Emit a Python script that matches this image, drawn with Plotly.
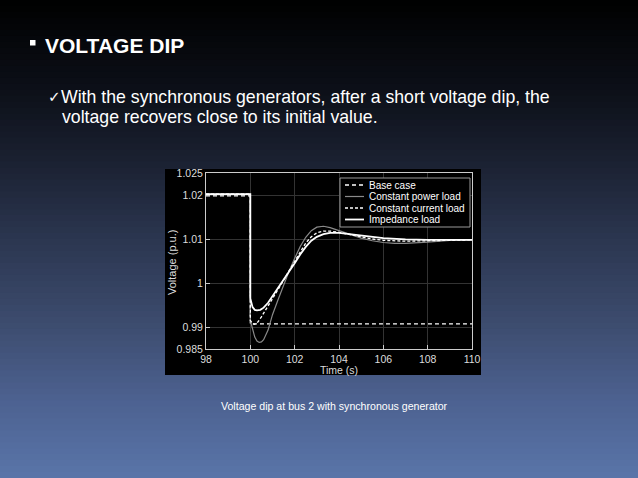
import plotly.graph_objects as go

W, H = 638, 478

# time (s) and voltage (p.u.)
t_base = [98, 100, 100, 110]
v_base = [1.0198, 1.0198, 0.9907, 0.9907]

t_power = [98, 100, 100, 100.1, 100.2, 100.3, 100.4, 100.5, 100.6, 100.8, 101.0,
           101.25, 101.5, 101.75, 102.0, 102.25, 102.5, 102.75, 103.0, 103.3, 103.6,
           104.0, 104.5, 105.0, 105.5, 106.0, 106.5, 107.0, 108.0, 109.0, 110.0]
v_power = [1.0202, 1.0202, 0.9915, 0.9893, 0.9877, 0.9868, 0.9865, 0.9866, 0.9871,
           0.9893, 0.9928, 0.9962, 0.9995, 1.0027, 1.0056, 1.0083, 1.0104, 1.0119,
           1.0127, 1.0129, 1.0126, 1.0119, 1.0110, 1.0102, 1.0096, 1.0092, 1.0090,
           1.0090, 1.0093, 1.0097, 1.0098]

t_current = [98, 100, 100, 100.1, 100.2, 100.35, 100.5, 100.75, 101.0, 101.25, 101.5,
             101.75, 102.0, 102.25, 102.5, 102.75, 103.0, 103.3, 103.6, 104.0, 104.5,
             105.0, 105.5, 106.0, 107.0, 108.0, 110.0]
v_current = [1.0202, 1.0202, 0.9915, 0.9907, 0.9906, 0.9912, 0.9923, 0.9943, 0.9965,
             0.9985, 1.0006, 1.0028, 1.0050, 1.0072, 1.0091, 1.0105, 1.0114, 1.0118,
             1.0118, 1.0115, 1.0110, 1.0105, 1.0100, 1.0097, 1.0095, 1.0096, 1.0098]

t_imp = [98, 100, 100, 100.1, 100.2, 100.3, 100.45, 100.6, 100.8, 101.0, 101.25,
         101.5, 101.75, 102.0, 102.25, 102.5, 102.75, 103.0, 103.3, 103.6, 104.0,
         104.5, 105.0, 105.5, 106.0, 107.0, 108.0, 110.0]
v_imp = [1.0202, 1.0202, 0.9965, 0.9945, 0.9939, 0.9938, 0.9939, 0.9944, 0.9955,
         0.9970, 0.9987, 1.0005, 1.0025, 1.0045, 1.0065, 1.0082, 1.0096, 1.0105,
         1.0111, 1.0114, 1.0114, 1.0111, 1.0108, 1.0105, 1.0102, 1.0099, 1.0098,
         1.0098]

x_ticks = [98, 100, 102, 104, 106, 108, 110]
y_ticks = [0.985, 0.99, 1.0, 1.01, 1.02, 1.025]
y_labels = ["0.985", "0.99", "1", "1.01", "1.02", "1.025"]

names = ["Base case", "Constant power load", "Constant current load", "Impedance load"]
colors = ["white", "#8a8a8a", "white", "white"]
widths = [1.3, 1.2, 1.3, 1.8]
dashes = ["4px,3px", "solid", "3px,2px", "solid"]


# slide pixel -> paper coordinates
def px(x):
    return x / W


def py(y):
    return 1 - y / H


fig = go.Figure()
series = [(t_base, v_base), (t_power, v_power), (t_current, v_current), (t_imp, v_imp)]
for (t, v), name, c, w, d in zip(series, names, colors, widths, dashes):
    fig.add_trace(go.Scatter(x=t, y=v, name=name, mode="lines",
                             line=dict(color=c, width=w, dash=d)))

# background gradient of the slide
stops = [(0.0, (0, 0, 0)), (0.2, (13, 17, 26)), (0.33, (26, 32, 48)),
         (0.5, (43, 54, 80)), (0.67, (60, 75, 109)), (0.84, (77, 98, 145)),
         (1.0, (90, 117, 169))]
shapes = []
n = 80
for i in range(n):
    y0, y1 = i * H / n, (i + 1) * H / n
    f = (y0 + y1) / 2 / H
    for (a, ca), (b, cb) in zip(stops[:-1], stops[1:]):
        if a <= f <= b:
            k = (f - a) / (b - a)
            c = tuple(round(ca[j] + (cb[j] - ca[j]) * k) for j in range(3))
            break
    shapes.append(dict(type="rect", xref="paper", yref="paper", x0=-0.02, x1=1.02,
                       y0=py(y1 + (12 if i == n - 1 else 2.5)),
                       y1=py(y0 - (12 if i == 0 else 0)),
                       fillcolor="rgb(%d,%d,%d)" % c, line_width=0, layer="below"))

# black figure panel
shapes.append(dict(type="rect", xref="paper", yref="paper",
                   x0=px(165), x1=px(481), y0=py(375), y1=py(169),
                   fillcolor="black", line_width=0, layer="below"))
# heading bullet
shapes.append(dict(type="rect", xref="paper", yref="paper",
                   x0=px(30), x1=px(35.5), y0=py(45.5), y1=py(40),
                   fillcolor="white", line_width=0))

txt = "Arial, Liberation Sans, sans-serif"

# legend box drawn by hand to keep MATLAB's compact spacing
shapes.append(dict(type="rect", xref="paper", yref="paper",
                   x0=px(340), x1=px(470), y0=py(227), y1=py(178),
                   fillcolor="black", line=dict(color="#999999", width=1)))
leg_y = [185, 196.5, 208, 219.5]
annotations = []
for name, c, w, d, yy in zip(names, colors, widths, dashes, leg_y):
    shapes.append(dict(type="line", xref="paper", yref="paper",
                       x0=px(345), x1=px(364), y0=py(yy), y1=py(yy),
                       line=dict(color=c, width=w, dash=d)))
    annotations.append(dict(text=name, x=px(367), y=py(yy), xanchor="left",
                            yanchor="middle",
                            font=dict(size=10, color="white", family=txt)))

annotations += [
    dict(text="<b>VOLTAGE DIP</b>", x=px(43), y=py(45), xanchor="left", yanchor="middle",
         font=dict(size=21, color="white", family=txt)),
    dict(text="✓", x=px(46), y=py(97), xanchor="left", yanchor="middle",
         font=dict(size=15, color="white", family="DejaVu Sans")),
    dict(text="With the synchronous generators, after a short voltage dip, the",
         x=px(59), y=py(97), xanchor="left", yanchor="middle",
         font=dict(size=17.7, color="white", family=txt)),
    dict(text="voltage recovers close to its initial value.",
         x=px(60), y=py(117), xanchor="left", yanchor="middle",
         font=dict(size=17.7, color="white", family=txt)),
    dict(text="Voltage dip at bus 2 with synchronous generator",
         x=px(334), y=py(405.5), xanchor="center", yanchor="middle",
         font=dict(size=10.6, color="white", family=txt)),
    dict(text="Time (s)", x=px(339), y=py(370), xanchor="center", yanchor="middle",
         font=dict(size=10.5, color="#dddddd", family=txt)),
    dict(text="Voltage (p.u.)", x=px(172), y=py(263), xanchor="center", yanchor="middle",
         textangle=-90, font=dict(size=11, color="#dddddd", family=txt)),
]
for a in annotations:
    a.update(xref="paper", yref="paper", showarrow=False)

axis_style = dict(ticks="inside", ticklen=4, tickcolor="#cccccc", automargin=False,
                  showline=True, linecolor="#cccccc", linewidth=1, mirror=True,
                  showgrid=True, gridcolor="#333333", gridwidth=1, zeroline=False,
                  tickfont=dict(size=10.5, color="#dddddd", family=txt))

fig.update_layout(
    width=W, height=H,
    margin=dict(l=0, r=0, t=0, b=0, pad=0, autoexpand=False),
    paper_bgcolor="black",
    plot_bgcolor="black",
    shapes=shapes,
    annotations=annotations,
    xaxis=dict(domain=[px(206), px(472)], range=[98, 110], tickvals=x_ticks,
               **axis_style),
    yaxis=dict(domain=[py(349), py(173)], range=[0.985, 1.025], tickvals=y_ticks,
               ticktext=y_labels, **axis_style),
    showlegend=False,
)

# drop the page's default body margin so the slide sits at the window corner
fig.write_html("out.html", config={"displayModeBar": False},
               post_script="document.body.style.margin='0';"
                           "document.body.style.overflow='hidden';")
